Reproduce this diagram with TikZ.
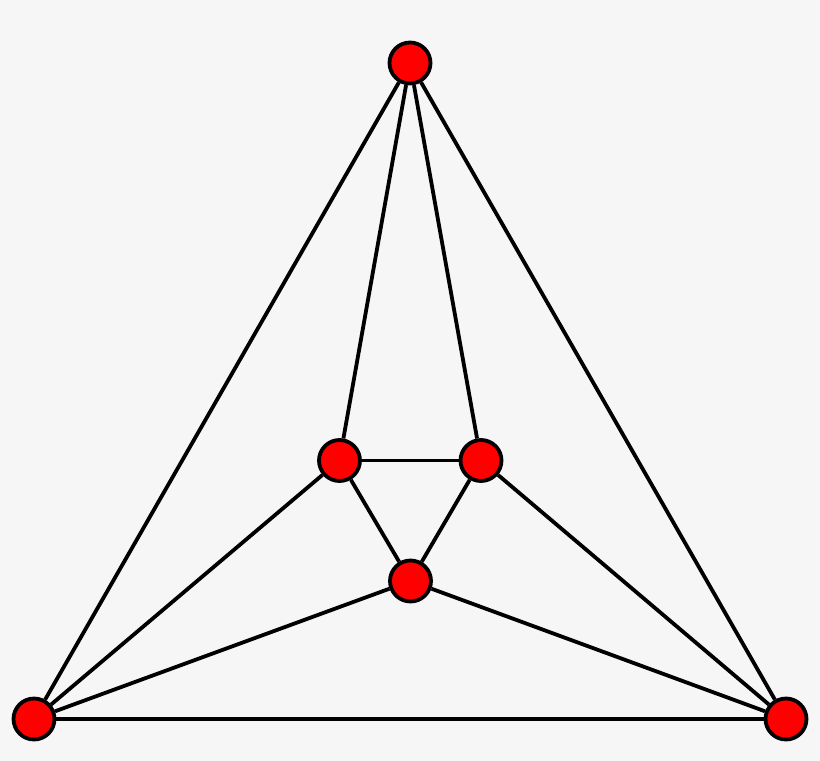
\documentclass[tikz,border=0pt]{standalone}
\begin{document}
\begin{tikzpicture}[x=1pt,y=-1pt,
  vertex/.style={circle,draw=black,fill=red,line width=3.8pt,minimum size=41pt,inner sep=0pt},
  edge/.style={line width=3.8pt,black}]
\fill[fill={rgb,255:red,246;green,246;blue,246}] (0,0) rectangle (820,761);
\useasboundingbox (0,0) rectangle (820,761);
\node[vertex] (t) at (410,63) {};
\node[vertex] (l) at (339.5,460.5) {};
\node[vertex] (r) at (481,460.5) {};
\node[vertex] (c) at (410.5,581) {};
\node[vertex] (bl) at (34,719) {};
\node[vertex] (br) at (786,719) {};
\draw[edge] (t) -- (bl);
\draw[edge] (t) -- (br);
\draw[edge] (t) -- (l);
\draw[edge] (t) -- (r);
\draw[edge] (l) -- (r);
\draw[edge] (l) -- (c);
\draw[edge] (r) -- (c);
\draw[edge] (l) -- (bl);
\draw[edge] (r) -- (br);
\draw[edge] (c) -- (bl);
\draw[edge] (c) -- (br);
\draw[edge] (bl) -- (br);
\end{tikzpicture}
\end{document}
